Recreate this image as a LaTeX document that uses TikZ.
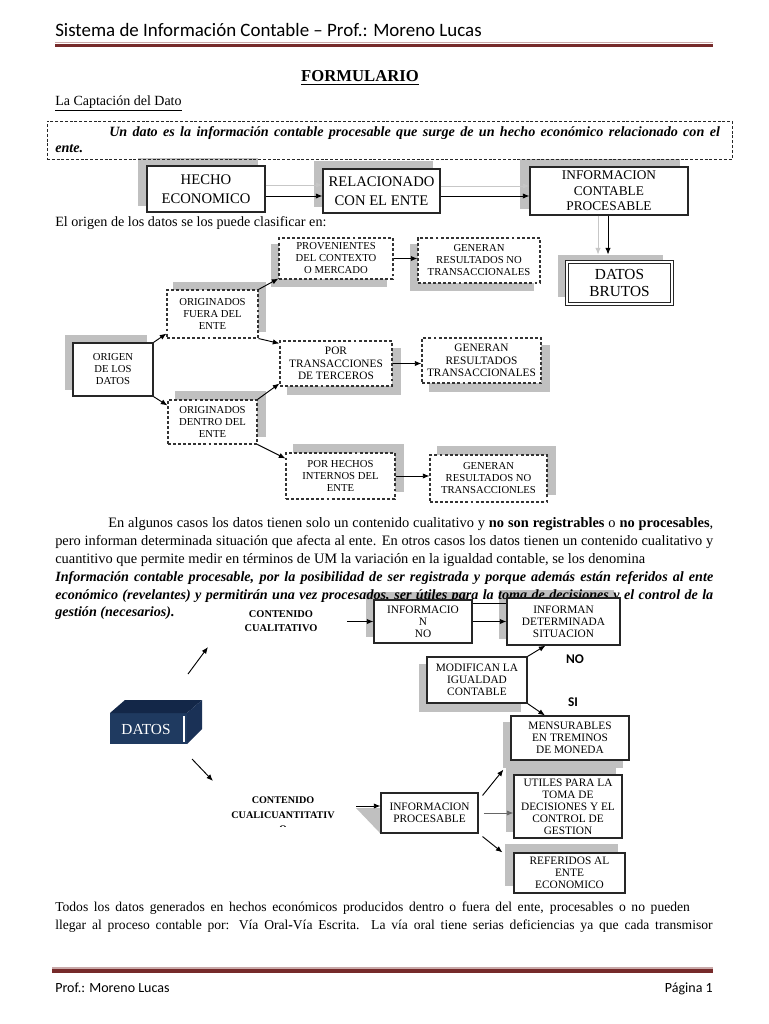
\documentclass[tikz,border=0pt]{standalone}
\usepackage{fontspec}
\setmainfont{Liberation Serif}
\newfontfamily\calfont{Carlito}
\usetikzlibrary{arrows.meta,backgrounds}
\definecolor{maroon}{HTML}{762A2A}
\definecolor{maroonlt}{HTML}{C9A9A9}
\definecolor{shad}{HTML}{C0C0C0}
\definecolor{navy}{HTML}{1F3A60}
\definecolor{navytop}{HTML}{132748}
\definecolor{navyside}{HTML}{1A3156}
\tikzset{
  solidbox/.style={draw=black!85, line width=0.8pt, fill=white, align=center, inner sep=0pt, font=\rmfamily\fontsize{8.5}{9}\selectfont},
  dbox/.style={draw=black!80, line width=0.8pt, dash pattern=on 2.2pt off 1.6pt, fill=white, align=center, inner sep=0pt, font=\rmfamily\fontsize{8}{9}\selectfont},
  arr/.style={-{Latex[length=5pt,width=4pt]}, line width=0.7pt},
  garr/.style={-{Latex[length=5pt,width=4pt]}, line width=0.7pt, draw=black!22},
  txt/.style={inner sep=0pt, anchor=base west, font=\rmfamily\fontsize{10.8}{12}\selectfont},
  bit/.style={font=\rmfamily\bfseries\itshape\fontsize{10.6}{12}\selectfont},
  lbl/.style={inner sep=0pt, align=center},
}
\begin{document}
\begin{tikzpicture}[x=0.75pt,y=-0.75pt]
\useasboundingbox (0,0) rectangle (768,1024);

% header
\node[inner sep=0pt, anchor=base west, font=\calfont\fontsize{14.2}{16}\selectfont] (hdr) at (55,37) {Sistema de Información Contable – Prof.: Moreno Lucas};
\draw[maroonlt, line width=0.8pt] (55,42.5) -- (713,42.5);
\draw[maroon, line width=2.6pt] (55,45.5) -- (713,45.5);

\node[inner sep=0pt, anchor=base, font=\rmfamily\bfseries\fontsize{12.5}{14}\selectfont] (title) at (360,82) {\underline{FORMULARIO}};
\node[txt, font=\rmfamily\fontsize{10.5}{12}\selectfont] (capt) at (55,105) {\underline{La Captación del Dato}};

% definition box
\node[draw=black!85, line width=0.7pt, dash pattern=on 2.2pt off 1.4pt, minimum width=513.75pt, minimum height=28.5pt, inner sep=0pt] (defbox) at (389.5,140) {};
\node[txt, bit] (def1) at (109,136) {\makebox[458pt][s]{Un dato es la información contable procesable que surge de un hecho económico relacionado con el}};
\node[txt, bit] (def2) at (55,152) {ente.};

% top flow
\node[solidbox, minimum width=88.5pt, minimum height=34.5pt, font=\rmfamily\fontsize{11}{14}\selectfont] (hecho) at (206,189) {HECHO\\ECONOMICO};
\node[solidbox, minimum width=87.75pt, minimum height=33pt, font=\rmfamily\fontsize{11}{14}\selectfont] (relac) at (381.5,191) {RELACIONADO\\CON EL ENTE};
\node[solidbox, minimum width=118.5pt, minimum height=36pt, font=\rmfamily\fontsize{10}{11.6}\selectfont] (infocp) at (609,191) {INFORMACION\\CONTABLE\\PROCESABLE};
\node[solidbox, double, double distance=1.4pt, line width=0.6pt, minimum width=78.75pt, minimum height=31.5pt, font=\rmfamily\fontsize{11.5}{13}\selectfont] (brutos) at (619.5,283) {DATOS\\BRUTOS};
\coordinate (bt) at ([shift={(0,-7)}]brutos.north);

\draw[garr] (hecho.east |- 0,185) -- (relac.west |- 0,185);
\draw[arr] (hecho.east |- 0,196) -- (relac.west |- 0,196);
\draw[garr] (relac.east |- 0,186) -- (infocp.west |- 0,186);
\draw[arr] (relac.east |- 0,196) -- (infocp.west |- 0,196);
\draw[garr] (infocp.south -| 598,0) -- (bt -| 598,0);
\draw[arr] (infocp.south -| 608,0) -- (bt -| 608,0);

\node[txt, font=\rmfamily\fontsize{10.6}{12}\selectfont] (orig) at (55,226) {El origen de los datos se los puede clasificar en:};

% classification
\node[dbox, minimum width=85.5pt, minimum height=30.75pt] (prov) at (336,258.5) {PROVENIENTES\\DEL CONTEXTO\\O MERCADO};
\node[dbox, minimum width=91.5pt, minimum height=33.75pt] (gen1) at (479,260.5) {GENERAN\\RESULTADOS NO\\TRANSACCIONALES};
\node[dbox, minimum width=68.25pt, minimum height=36pt] (fuera) at (212.5,314) {ORIGINADOS\\FUERA DEL\\ENTE};
\node[solidbox, minimum width=60pt, minimum height=39.75pt, line width=1pt, font=\rmfamily\fontsize{8}{9}\selectfont] (origen) at (113,369.5) {ORIGEN\\DE LOS\\DATOS};
\node[dbox, minimum width=84pt, minimum height=33.75pt, font=\rmfamily\fontsize{8.5}{9.5}\selectfont] (trans) at (336,363.5) {POR\\TRANSACCIONES\\DE TERCEROS};
\node[dbox, minimum width=89.25pt, minimum height=33.75pt, font=\rmfamily\fontsize{8.5}{9.5}\selectfont] (gen2) at (481.5,360.5) {GENERAN\\RESULTADOS\\TRANSACCIONALES};
\node[dbox, minimum width=66.75pt, minimum height=33pt] (dentro) at (212.5,422) {ORIGINADOS\\DENTRO DEL\\ENTE};
\node[dbox, minimum width=81.75pt, minimum height=34.5pt] (hechos) at (340.5,476) {POR HECHOS\\INTERNOS DEL\\ENTE};
\node[dbox, minimum width=87.75pt, minimum height=35.25pt] (gen3) at (488.5,478.5) {GENERAN\\RESULTADOS NO\\TRANSACCIONLES};

\draw[arr] (origen.north east) -- ([shift={(0,-5)}]fuera.south west);
\draw[arr] (fuera.north east) -- ([shift={(0,-1)}]prov.south west);
\draw[arr] (fuera.south east) -- ([shift={(0,3)}]trans.north west);
\draw[arr] (origen.south east) -- ([shift={(0,6)}]dentro.north west);
\draw[arr] (dentro.north east) -- ([shift={(0,-3)}]trans.south west);
\draw[arr] (dentro.south east) -- ([shift={(0,6)}]hechos.north west);
\draw[arr] (prov.east) -- (gen1.west |- prov.east);
\draw[arr] (trans.east) -- (gen2.west |- trans.east);
\draw[arr] (hechos.east) -- (gen3.west |- hechos.east);

% paragraph
\node[txt] (p1) at (108,527) {\makebox[453.75pt][s]{En algunos casos los datos tienen solo un contenido cualitativo y \textbf{no son registrables} o \textbf{no procesables},}};
\node[txt] (p2) at (55,545) {\makebox[493.5pt][s]{pero informan determinada situación que afecta al ente. En otros casos los datos tienen un contenido cualitativo y}};
\node[txt] (p3) at (55,563) {cuantitivo que permite medir en términos de UM la variación en la igualdad contable, se los denomina};
\node[txt, bit] (p4) at (55,581) {\makebox[493.5pt][s]{Información contable procesable, por la posibilidad de ser registrada y porque además están referidos al ente}};
\node[txt, bit] (p5) at (55,599) {\makebox[493.5pt][s]{económico (revelantes) y permitirán una vez procesados, ser útiles para la toma de decisiones y el control de la}};
\node[txt, bit] (p6) at (55,616) {gestión (necesarios).};
\draw[line width=0.6pt] (410,603) -- (613,603);

% lower diagram
\node[lbl, font=\rmfamily\bfseries\fontsize{7.8}{10.9}\selectfont] (cual) at (281,621) {CONTENIDO\\CUALITATIVO};
\node[solidbox, minimum width=73.5pt, minimum height=32.25pt] (infno) at (423,621.5) {INFORMACIO\\N\\NO};
\node[solidbox, minimum width=84.75pt, minimum height=35.25pt] (infdet) at (563.5,621.5) {INFORMAN\\DETERMINADA\\SITUACION};
\node[solidbox, minimum width=75pt, minimum height=34.5pt] (modif) at (477,680) {MODIFICAN LA\\IGUALDAD\\CONTABLE};
\node[solidbox, minimum width=88.5pt, minimum height=33pt] (mens) at (570,738) {MENSURABLES\\EN TREMINOS\\DE MONEDA};
\node[solidbox, minimum width=81pt, minimum height=47.25pt] (utiles) at (568,806.5) {UTILES PARA LA\\TOMA DE\\DECISIONES Y EL\\CONTROL DE\\GESTION};
\node[solidbox, minimum width=83.25pt, minimum height=30pt] (refer) at (569.5,873) {REFERIDOS AL\\ENTE\\ECONOMICO};
\node[solidbox, minimum width=72.75pt, minimum height=30pt] (infproc) at (429.5,813) {INFORMACION\\PROCESABLE};
\node[inner sep=0pt, font=\calfont\bfseries\fontsize{10}{12}\selectfont] (no) at (575,659) {NO};
\node[inner sep=0pt, font=\calfont\bfseries\fontsize{10}{12}\selectfont] (si) at (573,702) {SI};

\begin{scope}
\clip (190,790) rectangle (365,826);
\node[lbl, font=\rmfamily\bfseries\fontsize{7.6}{10.9}\selectfont] (cuali) at (283,815) {CONTENIDO\\CUALICUANTITATIV\\O};
\end{scope}

% DATOS block
\fill[navy] (110,713) rectangle (187,744);
\fill[navytop] (110,713) -- (125,700) -- (202,700) -- (187,713) -- cycle;
\fill[navyside] (187,713) -- (202,700) -- (202,729) -- (187,744) -- cycle;
\draw[white, line width=0.8pt] (184,716) -- (184,742);
\node[inner sep=0pt, text=white, font=\rmfamily\fontsize{11.5}{12}\selectfont] (datos) at (146,729) {DATOS};

\coordinate (d1s) at (188,674);
\coordinate (d1e) at (208,647);
\coordinate (d2s) at (192,759);
\coordinate (d2e) at (213,781);
\draw[arr] (d1s) -- (d1e);
\draw[arr] (d2s) -- (d2e);

\draw[arr, shorten <=22pt] (cual.east |- infno.west) -- (infno.west);
\draw[arr] (infno.east) -- (infdet.west |- infno.east);
\draw[arr] (modif.north east) -- ([shift={(-18,0)}]infdet.south);
\draw[arr] (modif.south east) -- ([shift={(-25,0)}]mens.north);
\draw[arr, shorten <=16pt] (cuali.east |- 0,806) -- (infproc.west |- 0,806);
\draw[arr] ([shift={(4,3)}]infproc.north east) -- ([shift={(-7,9)}]mens.south west);
\draw[arr, color=black!60, shorten <=4pt] (infproc.east) -- (utiles.west |- infproc.east);
\draw[arr] ([shift={(4,3)}]infproc.south east) -- ([shift={(-11,0)}]refer.north west);

% closing text
\node[txt, font=\rmfamily\fontsize{10.2}{12}\selectfont] (t1) at (55,911) {\makebox[476pt][s]{Todos los datos generados en hechos económicos producidos dentro o fuera del ente, procesables o no pueden}};
\node[txt, font=\rmfamily\fontsize{10.2}{12}\selectfont] (t2) at (55,929) {\makebox[493pt][s]{llegar al proceso contable por: Vía Oral\textbf{-}Vía Escrita. La vía oral tiene serias deficiencias ya que cada transmisor}};

% footer
\draw[maroonlt, line width=0.8pt] (52,968) -- (713,968);
\draw[maroon, line width=2.6pt] (52,971) -- (713,971);
\node[inner sep=0pt, anchor=base west, font=\calfont\fontsize{10.5}{12}\selectfont] (fl) at (55,992) {Prof.: Moreno Lucas};
\node[inner sep=0pt, anchor=base east, font=\calfont\fontsize{10.5}{12}\selectfont] (fr) at (713,992) {Página 1};

% shadows
\begin{pgfonlayer}{background}
\fill[white] (0,0) rectangle (768,1024);
\fill[shad] ([shift={(-8,-7)}]hecho.north west) rectangle ([shift={(-8,-7)}]hecho.south east);
\fill[shad] ([shift={(-8,-7)}]relac.north west) rectangle ([shift={(-8,-7)}]relac.south east);
\fill[shad] ([shift={(-9,-7)}]infocp.north west) rectangle ([shift={(-9,-7)}]infocp.south east);
\fill[shad] ([shift={(-9,-7)}]brutos.north west) rectangle ([shift={(-9,-7)}]brutos.south east);
\fill[shad] ([shift={(-7,7)}]prov.north west) rectangle ([shift={(-7,7)}]prov.south east);
\fill[shad] ([shift={(-7,7)}]gen1.north west) rectangle ([shift={(-7,7)}]gen1.south east);
\fill[shad] ([shift={(7,-7)}]fuera.north west) rectangle ([shift={(7,-7)}]fuera.south east);
\fill[shad] ([shift={(-7,-7)}]origen.north west) rectangle ([shift={(-7,-7)}]origen.south east);
\fill[shad] ([shift={(8,8)}]trans.north west) rectangle ([shift={(8,8)}]trans.south east);
\fill[shad] ([shift={(8,8)}]gen2.north west) rectangle ([shift={(8,8)}]gen2.south east);
\fill[shad] ([shift={(8,-8)}]dentro.north west) rectangle ([shift={(8,-8)}]dentro.south east);
\fill[shad] ([shift={(8,-8)}]hechos.north west) rectangle ([shift={(8,-8)}]hechos.south east);
\fill[shad] ([shift={(8,-8)}]gen3.north west) rectangle ([shift={(8,-8)}]gen3.south east);
\fill[shad] ([shift={(-7,-7)}]infno.north west) rectangle ([shift={(-7,-7)}]infno.south east);
\fill[shad] ([shift={(-7,-7)}]infdet.north west) rectangle ([shift={(-7,-7)}]infdet.south east);
\fill[shad] ([shift={(-7,8)}]modif.north west) rectangle ([shift={(-7,8)}]modif.south east);
\fill[shad] ([shift={(-7,7)}]mens.north west) rectangle ([shift={(-7,7)}]mens.south east);
\fill[shad] ([shift={(-7,-7)}]utiles.north west) rectangle ([shift={(-7,-7)}]utiles.south east);
\fill[shad] ([shift={(-8,-8)}]refer.north west) rectangle ([shift={(-8,-8)}]refer.south east);
\fill[shad] (356,808) -- (infproc.west |- 0,808) -- (infproc.south west) -- cycle;
\end{pgfonlayer}
\end{tikzpicture}
\end{document}
